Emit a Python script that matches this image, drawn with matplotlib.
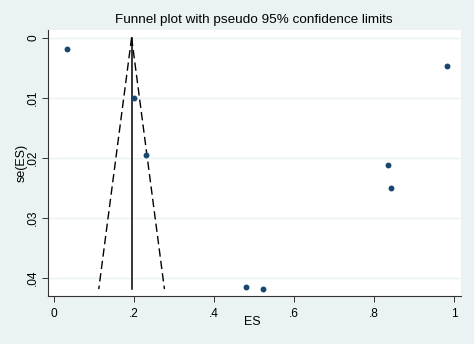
import numpy as np
import matplotlib
matplotlib.use("Agg")
import matplotlib.pyplot as plt

# Data
es = [0.032, 0.982, 0.199, 0.230, 0.836, 0.8425, 0.479, 0.522]
se = [0.0019, 0.0047, 0.0100, 0.0195, 0.0213, 0.0250, 0.0416, 0.0419]
pooled_es = 0.194
se_max = 0.0419
x_ticks = [0, 0.2, 0.4, 0.6, 0.8, 1.0]
x_tick_labels = ["0", ".2", ".4", ".6", ".8", "1"]
y_ticks = [0, 0.01, 0.02, 0.03, 0.04]
y_tick_labels = ["0", ".01", ".02", ".03", ".04"]

plt.rcParams['font.family'] = ['Liberation Sans', 'DejaVu Sans']

bg = '#EAF2F3'
fig = plt.figure(figsize=(4.74, 3.44), dpi=100, facecolor=bg)
ax = fig.add_axes([48/474, 1-296/344, (461-48)/474, (296-30)/344])
ax.set_facecolor('white')

# gridlines
for yt in y_ticks:
    ax.axhline(yt, color=bg, lw=1.0, zorder=0)

# funnel
se_line = np.array([0, se_max])
z = 1.96
ax.plot(pooled_es - z*se_line, se_line, color='black', lw=1.0, ls=(0, (6, 3)), zorder=2)
ax.plot(pooled_es + z*se_line, se_line, color='black', lw=1.0, ls=(0, (6, 3)), zorder=2)
ax.plot([pooled_es, pooled_es], [0, se_max], color='black', lw=1.1, zorder=2)

ax.scatter(es, se, s=18, color='#1a476f', zorder=3, linewidths=0)

ax.set_xlim(-0.015, 1.0175)
ax.set_ylim(0.04305, -0.00128)

ax.set_xticks(x_ticks)
ax.set_xticklabels(x_tick_labels)
ax.set_yticks(y_ticks)
ax.set_yticklabels(y_tick_labels, rotation=90, va='center')

for s in ['top', 'right']:
    ax.spines[s].set_visible(False)
for s in ['left', 'bottom']:
    ax.spines[s].set_color('#333333')
    ax.spines[s].set_linewidth(0.8)
ax.tick_params(axis='both', length=4.4, width=0.7, color='#333333', labelsize=8.6)
ax.tick_params(axis='x', pad=4)
ax.tick_params(axis='y', pad=2)

ax.set_xlabel("ES", fontsize=9)
ax.xaxis.label.set_va('center')
ax.xaxis.set_label_coords(0.4937, -0.0977)
ax.set_ylabel("se(ES)", fontsize=9)
ax.yaxis.label.set_va('center')
ax.yaxis.set_label_coords(-0.064, 0.5)
fig.text(254/474, 1-20/344, "Funnel plot with pseudo 95% confidence limits",
         ha='center', va='center', fontsize=9.7)

fig.savefig("out.png", dpi=100, facecolor=bg)
